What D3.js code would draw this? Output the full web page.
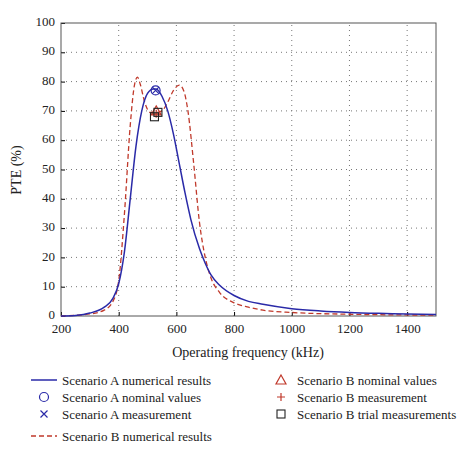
<!DOCTYPE html><html><head><meta charset="utf-8"><script src="https://cdn.jsdelivr.net/npm/d3@7"></script>
<style>body{margin:0;background:#fff}text{font-family:"Liberation Serif",serif;fill:#222}</style></head><body><svg id="c" width="474" height="462"></svg>
<script>
const xTicks=[200,400,600,800,1000,1200,1400];
const yTicks=[0,10,20,30,40,50,60,70,80,90,100];
const blueF=[200,250,300,350,380,400,420,440,460,480,500,520,530,550,570,590,610,630,650,680,700,720,750,800,850,900,1000,1100,1200,1300,1400,1500];
const blueV=[0,0.2,1,3,6,11,22,40,58,70,76,77.5,77.5,75,70,62,52,42,33,23,18,14,10.5,7,5,4,2.5,1.7,1.2,0.9,0.7,0.5];
const redF=[200,300,350,380,400,420,440,455,465,475,490,510,530,550,570,590,610,625,640,660,680,700,720,750,800,850,900,1000,1200,1500];
const redV=[0,0.7,2,5,12,35,65,79,81.5,79,73,69.5,69.5,70,73,77,78.8,77,70,52,32,20,13,8,4.5,3,2,1.2,0.6,0.3];
const markers=[{t:"circle",f:528,v:77},{t:"x",f:528,v:77},{t:"tri",f:530,v:70},{t:"plus",f:530,v:69},{t:"sq",f:524,v:68},{t:"sq",f:536,v:69.5}];
const legend=[["line","Scenario A numerical results"],["circle","Scenario A nominal values"],["x","Scenario A measurement"],["dash","Scenario B numerical results"],["tri","Scenario B nominal values"],["plus","Scenario B measurement"],["sq","Scenario B trial measurements"]];
const svg=d3.select("#c");
const x=d3.scaleLinear().domain([200,1500]).range([61,436]);
const y=d3.scaleLinear().domain([0,100]).range([316,23]);
const g=svg.append("g");
xTicks.slice(1).forEach(t=>g.append("line").attr("x1",x(t)).attr("x2",x(t)).attr("y1",y(0)).attr("y2",y(100)).attr("stroke","#777").attr("stroke-dasharray","1,4"));
yTicks.slice(1,-1).forEach(t=>g.append("line").attr("y1",y(t)).attr("y2",y(t)).attr("x1",x(200)).attr("x2",x(1500)).attr("stroke","#777").attr("stroke-dasharray","1,4"));
svg.append("g").attr("transform","translate(0,316)").call(d3.axisBottom(x).tickValues(xTicks).tickFormat(d3.format("d")).tickSize(-4).tickPadding(8)).call(a=>{a.select(".domain").remove();a.selectAll("text").attr("font-size",13).attr("font-family","Liberation Serif")});
svg.append("g").attr("transform","translate(61,0)").call(d3.axisLeft(y).tickValues(yTicks).tickSize(-4).tickPadding(6)).call(a=>{a.select(".domain").remove();a.selectAll("text").attr("font-size",13).attr("font-family","Liberation Serif").attr("dy","0.2em")});
svg.append("rect").attr("x",61).attr("y",23).attr("width",375).attr("height",293).attr("fill","none").attr("stroke","#555").attr("stroke-width",1);
const line=d3.line().curve(d3.curveMonotoneX);
svg.append("path").attr("d",line(redF.map((f,i)=>[x(f),y(redV[i])]))).attr("fill","none").attr("stroke","#c0392b").attr("stroke-width",1.3).attr("stroke-dasharray","5,3");
svg.append("path").attr("d",line(blueF.map((f,i)=>[x(f),y(blueV[i])]))).attr("fill","none").attr("stroke","#2a2aa8").attr("stroke-width",1.5);
function mk(p,t,cx,cy){
 if(t=="circle")p.append("circle").attr("cx",cx).attr("cy",cy).attr("r",4.5).attr("fill","none").attr("stroke","#2a2aa8").attr("stroke-width",1.2);
 if(t=="x")p.append("path").attr("d",`M${cx-3.5},${cy-3.5}L${cx+3.5},${cy+3.5}M${cx-3.5},${cy+3.5}L${cx+3.5},${cy-3.5}`).attr("stroke","#2a2aa8").attr("stroke-width",1.2);
 if(t=="tri")p.append("path").attr("d",`M${cx},${cy-5}L${cx+5},${cy+4}L${cx-5},${cy+4}Z`).attr("fill","none").attr("stroke","#c0392b").attr("stroke-width",1.2);
 if(t=="plus")p.append("path").attr("d",`M${cx-4},${cy}L${cx+4},${cy}M${cx},${cy-4}L${cx},${cy+4}`).attr("stroke","#c0392b").attr("stroke-width",1.2);
 if(t=="sq")p.append("rect").attr("x",cx-4).attr("y",cy-4).attr("width",8).attr("height",8).attr("fill","none").attr("stroke","#222").attr("stroke-width",1.1);
 if(t=="line")p.append("line").attr("x1",cx-13).attr("x2",cx+13).attr("y1",cy).attr("y2",cy).attr("stroke","#2a2aa8").attr("stroke-width",1.5);
 if(t=="dash")p.append("line").attr("x1",cx-13).attr("x2",cx+13).attr("y1",cy).attr("y2",cy).attr("stroke","#c0392b").attr("stroke-width",1.3).attr("stroke-dasharray","5,3");
}
markers.forEach(m=>mk(svg,m.t,x(m.f),y(m.v)));
svg.append("text").attr("x",248).attr("y",357).attr("text-anchor","middle").attr("font-size",14).text("Operating frequency (kHz)");
svg.append("text").attr("transform","translate(21,170) rotate(-90)").attr("text-anchor","middle").attr("font-size",14).text("PTE (%)");
const pos=[[44,380],[44,397],[44,414],[44,436],[281,380],[281,397],[281,414]];
legend.forEach((l,i)=>{const [lx,ly]=pos[i];mk(svg,l[0],lx,ly);svg.append("text").attr("x",i<4?62:297).attr("y",ly+4.5).attr("font-size",13).text(l[1]);});
</script></body></html>
